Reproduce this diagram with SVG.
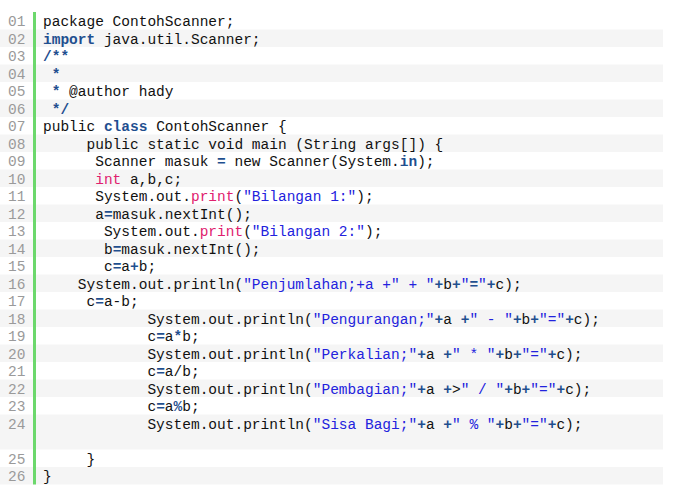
<svg xmlns="http://www.w3.org/2000/svg" width="679" height="496" viewBox="0 0 679 496">
<style>
text{font-family:"Liberation Mono","DejaVu Sans Mono",monospace;font-size:14.5px;fill:#111;white-space:pre}
.n{fill:#9a9a9a}
.k{fill:#1f4f8f;font-weight:bold}
.s{fill:#2222dd}
.p{fill:#e0206e}
.o{fill:#1f4f8f;font-weight:bold}
.g{fill:#f5f5f5}
</style>
<rect width="679" height="496" fill="#fff"/>
<g id="rows">
<rect class="g" x="0" y="29.5" width="663" height="17.5"/>
<rect class="g" x="0" y="64.5" width="663" height="17.5"/>
<rect class="g" x="0" y="99.5" width="663" height="17.5"/>
<rect class="g" x="0" y="134.5" width="663" height="17.5"/>
<rect class="g" x="0" y="169.5" width="663" height="17.5"/>
<rect class="g" x="0" y="204.5" width="663" height="17.5"/>
<rect class="g" x="0" y="239.5" width="663" height="17.5"/>
<rect class="g" x="0" y="274.5" width="663" height="17.5"/>
<rect class="g" x="0" y="309.5" width="663" height="17.5"/>
<rect class="g" x="0" y="344.5" width="663" height="17.5"/>
<rect class="g" x="0" y="379.5" width="663" height="17.5"/>
<rect class="g" x="0" y="414.5" width="663" height="35"/>
<rect class="g" x="0" y="467" width="663" height="17.5"/>
<rect x="33" y="12" width="3" height="472.5" fill="#6cd86c"/>
</g>
<g id="numbers">
<text class="n" x="8" y="26">01</text><text class="n" x="8" y="43.5">02</text><text class="n" x="8" y="61">03</text><text class="n" x="8" y="78.5">04</text><text class="n" x="8" y="96">05</text><text class="n" x="8" y="113.5">06</text><text class="n" x="8" y="131">07</text><text class="n" x="8" y="148.5">08</text><text class="n" x="8" y="166">09</text><text class="n" x="8" y="183.5">10</text><text class="n" x="8" y="201">11</text><text class="n" x="8" y="218.5">12</text><text class="n" x="8" y="236">13</text><text class="n" x="8" y="253.5">14</text><text class="n" x="8" y="271">15</text><text class="n" x="8" y="288.5">16</text><text class="n" x="8" y="306">17</text><text class="n" x="8" y="323.5">18</text><text class="n" x="8" y="341">19</text><text class="n" x="8" y="358.5">20</text><text class="n" x="8" y="376">21</text><text class="n" x="8" y="393.5">22</text><text class="n" x="8" y="411">23</text><text class="n" x="8" y="428.5">24</text><text class="n" x="8" y="463.5">25</text><text class="n" x="8" y="481">26</text>
</g>
<g id="code">
<text x="43" y="26">package ContohScanner;</text>
<text x="43" y="43.5"><tspan class="k">import</tspan> java.util.Scanner;</text>
<text x="43" y="61" class="k">/**</text>
<text x="43" y="78.5" class="k"> *</text>
<text x="43" y="96"><tspan class="k"> *</tspan> @author hady</text>
<text x="43" y="113.5" class="k"> */</text>
<text x="43" y="131">public <tspan class="k">class</tspan> ContohScanner {</text>
<text x="43" y="148.5">     public static void main (String args[]) {</text>
<text x="43" y="166">      Scanner masuk <tspan class="o">=</tspan> new Scanner(System.<tspan class="k">in</tspan>);</text>
<text x="43" y="183.5">      <tspan class="p">int</tspan> a,b,c;</text>
<text x="43" y="201">      System.out.<tspan class="p">print</tspan>(<tspan class="s">"Bilangan 1:"</tspan>);</text>
<text x="43" y="218.5">      a<tspan class="o">=</tspan>masuk.nextInt();</text>
<text x="43" y="236">       System.out.<tspan class="p">print</tspan>(<tspan class="s">"Bilangan 2:"</tspan>);</text>
<text x="43" y="253.5">       b<tspan class="o">=</tspan>masuk.nextInt();</text>
<text x="43" y="271">       c<tspan class="o">=</tspan>a<tspan class="o">+</tspan>b;</text>
<text x="43" y="288.5">    System.out.println(<tspan class="s">"Penjumlahan;+a +" + "</tspan><tspan class="o">+</tspan>b<tspan class="o">+</tspan><tspan class="s">"</tspan><tspan class="o">=</tspan><tspan class="s">"</tspan><tspan class="o">+</tspan>c);</text>
<text x="43" y="306">     c<tspan class="o">=</tspan>a-b;</text>
<text x="43" y="323.5">            System.out.println(<tspan class="s">"Pengurangan;"</tspan><tspan class="o">+</tspan>a <tspan class="o">+</tspan><tspan class="s">" - "</tspan><tspan class="o">+</tspan>b<tspan class="o">+</tspan><tspan class="s">"="</tspan><tspan class="o">+</tspan>c);</text>
<text x="43" y="341">            c<tspan class="o">=</tspan>a<tspan class="o">*</tspan>b;</text>
<text x="43" y="358.5">            System.out.println(<tspan class="s">"Perkalian;"</tspan><tspan class="o">+</tspan>a <tspan class="o">+</tspan><tspan class="s">" * "</tspan><tspan class="o">+</tspan>b<tspan class="o">+</tspan><tspan class="s">"="</tspan><tspan class="o">+</tspan>c);</text>
<text x="43" y="376">            c<tspan class="o">=</tspan>a/b;</text>
<text x="43" y="393.5">            System.out.println(<tspan class="s">"Pembagian;"</tspan><tspan class="o">+</tspan>a <tspan class="o">+</tspan>&gt;<tspan class="s">" / "</tspan><tspan class="o">+</tspan>b<tspan class="o">+</tspan><tspan class="s">"="</tspan><tspan class="o">+</tspan>c);</text>
<text x="43" y="411">            c<tspan class="o">=</tspan>a<tspan class="o">%</tspan>b;</text>
<text x="43" y="428.5">            System.out.println(<tspan class="s">"Sisa Bagi;"</tspan><tspan class="o">+</tspan>a <tspan class="o">+</tspan><tspan class="s">" % "</tspan><tspan class="o">+</tspan>b<tspan class="o">+</tspan><tspan class="s">"="</tspan><tspan class="o">+</tspan>c);</text>
<text x="43" y="463.5">     }</text>
<text x="43" y="481">}</text>
</g>
</svg>
